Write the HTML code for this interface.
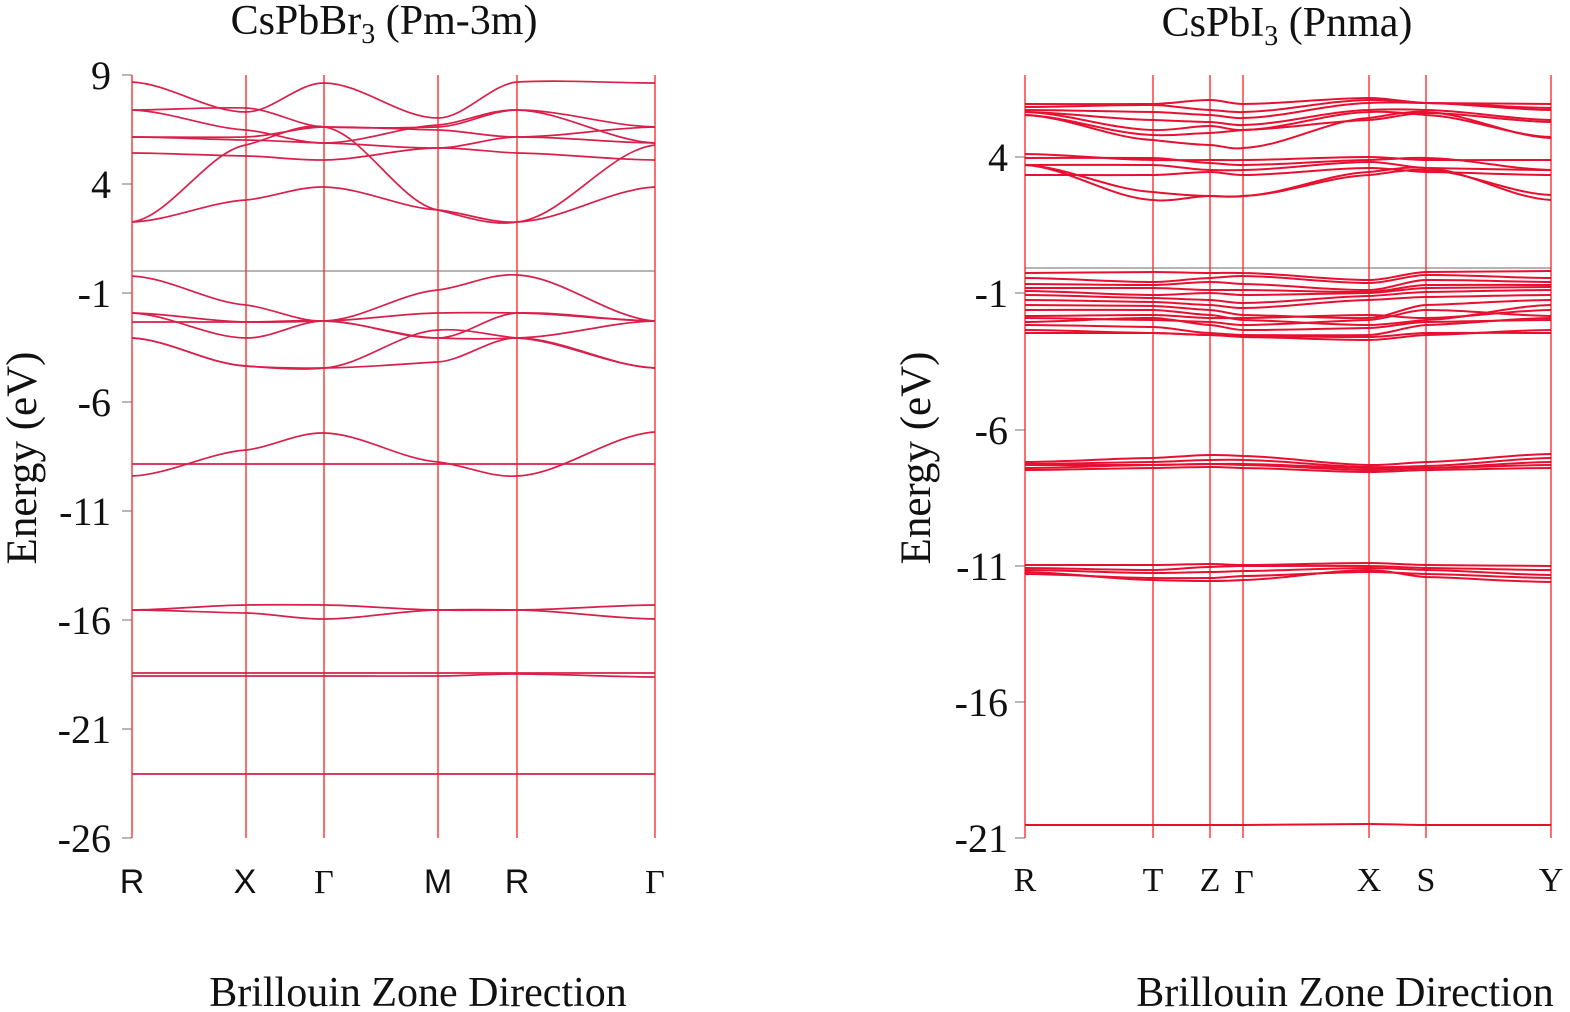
<!DOCTYPE html>
<html><head><meta charset="utf-8"><style>
html,body{margin:0;padding:0;background:#fff;}
svg{display:block;}
text{font-family:"Liberation Serif",serif;fill:#111;}
.s{font-family:"Liberation Sans",sans-serif;}
</style></head><body>
<svg id="c" width="1570" height="1012" viewBox="0 0 1570 1012" xmlns="http://www.w3.org/2000/svg">
<text x="384" y="34" font-size="42" text-anchor="middle">CsPbBr<tspan font-size="28" dy="9">3</tspan><tspan dy="-9">  (Pm-3m)</tspan></text>
<text x="1287" y="36" font-size="42" text-anchor="middle">CsPbI<tspan font-size="28" dy="9">3</tspan><tspan dy="-9"> (Pnma)</tspan></text>
<text transform="translate(36,458) rotate(-90)" font-size="43" text-anchor="middle">Energy (eV)</text>
<text transform="translate(930,458) rotate(-90)" font-size="43" text-anchor="middle">Energy (eV)</text>
<text x="418" y="1006" font-size="42" text-anchor="middle">Brillouin Zone Direction</text>
<text x="1345" y="1006" font-size="42" text-anchor="middle">Brillouin Zone Direction</text>
<g stroke="#888" stroke-width="1.2">
<line x1="122" y1="75" x2="132" y2="75"/><line x1="122" y1="184" x2="132" y2="184"/><line x1="122" y1="293" x2="132" y2="293"/><line x1="122" y1="402" x2="132" y2="402"/><line x1="122" y1="511" x2="132" y2="511"/><line x1="122" y1="620" x2="132" y2="620"/><line x1="122" y1="729" x2="132" y2="729"/><line x1="122" y1="838" x2="132" y2="838"/>
<line x1="1015" y1="157" x2="1025" y2="157"/><line x1="1015" y1="293" x2="1025" y2="293"/><line x1="1015" y1="430" x2="1025" y2="430"/><line x1="1015" y1="566" x2="1025" y2="566"/><line x1="1015" y1="702" x2="1025" y2="702"/><line x1="1015" y1="838" x2="1025" y2="838"/>
<line x1="132" y1="271" x2="655" y2="271"/><line x1="1025" y1="268" x2="1551" y2="268"/>
</g>
<g font-size="40" text-anchor="end">
<text x="111" y="89">9</text><text x="111" y="198">4</text><text x="111" y="307">-1</text><text x="111" y="416">-6</text><text x="111" y="525">-11</text><text x="111" y="634">-16</text><text x="111" y="743">-21</text><text x="111" y="852">-26</text>
<text x="1008" y="171">4</text><text x="1008" y="307">-1</text><text x="1008" y="444">-6</text><text x="1008" y="580">-11</text><text x="1008" y="716">-16</text><text x="1008" y="852">-21</text>
</g>
<g font-size="34" text-anchor="middle">
<text class="s" x="132" y="893">R</text><text class="s" x="245" y="893">X</text><text x="324" y="893">Γ</text><text class="s" x="438" y="893">M</text><text class="s" x="517" y="893">R</text><text x="655" y="893">Γ</text>
<text x="1025" y="891">R</text><text x="1153" y="891">T</text><text x="1210" y="891">Z</text><text x="1244" y="893">Γ</text><text x="1369" y="891">X</text><text x="1426" y="891">S</text><text x="1551" y="891">Y</text>
</g>
<g stroke="#ff2020" stroke-width="1.3">
<line x1="132" y1="75" x2="132" y2="838"/><line x1="246" y1="75" x2="246" y2="838"/><line x1="324" y1="75" x2="324" y2="838"/><line x1="438" y1="75" x2="438" y2="838"/><line x1="517" y1="75" x2="517" y2="838"/><line x1="655" y1="75" x2="655" y2="838"/>
<line x1="1025" y1="75" x2="1025" y2="838"/><line x1="1153" y1="75" x2="1153" y2="838"/><line x1="1210" y1="75" x2="1210" y2="838"/><line x1="1243" y1="75" x2="1243" y2="838"/><line x1="1369" y1="75" x2="1369" y2="838"/><line x1="1426" y1="75" x2="1426" y2="838"/><line x1="1551" y1="75" x2="1551" y2="838"/>
</g>
<g id="L" fill="none" stroke="#d8204a" stroke-width="1.7"></g>
<g id="R" fill="none" stroke="#e81030" stroke-width="2"></g>
</svg>
<script>
function path(xs,ys){
  var pts=xs.map(function(x,i){return [x,ys[i]];});
  var d="M"+pts[0][0]+","+pts[0][1];
  for(var i=0;i<pts.length-1;i++){
    var p0=pts[Math.max(i-1,0)],p1=pts[i],p2=pts[i+1],p3=pts[Math.min(i+2,pts.length-1)];
    var c1x=p1[0]+(p2[0]-p1[0])/3,c2x=p2[0]-(p2[0]-p1[0])/3;
    var c1y=p1[1]+(p2[1]-p0[1])/6*0.4, c2y=p2[1]-(p3[1]-p1[1])/6*0.4;
    d+=" C"+c1x+","+c1y+" "+c2x+","+c2y+" "+p2[0]+","+p2[1];
  }
  return d;
}
function draw(id,xs,bands){
  var g=document.getElementById(id),h="";
  bands.forEach(function(b){h+='<path d="'+path(xs,b)+'"/>';});
  g.innerHTML=h;
}
var LX=[132,246,324,438,517,655];
draw("L",LX,[
[82,112,83,118,82,83],[110,108,127,127,110,127],[110,130,143,125,110,143],[137,140,143,148,137,143],
[137,137,127,130,137,127],[153,156,160,148,153,160],[222,145,127,210,222,145],[222,200,187,210,222,187],
[276,305,321,290,275,321],[313,322,321,313,313,321],[313,338,321,338,313,321],[322,322,321,338,338,321],
[338,366,368,362,338,368],[338,366,368,330,338,368],[464,464,464,464,464,464],[476,450,433,462,476,432],
[610,605,605,610,610,605],[610,613,619,610,610,619],[673,673,673,673,673,673],[676,676,676,676,674,677],
[774,774,774,774,774,774]
]);
var RX=[1025,1153,1210,1243,1369,1426,1551];
draw("R",RX,[
[104,104,100,104,98,103,104],[107,105,110,112,100,103,110],[110,112,115,118,103,103,108],
[112,120,122,125,110,110,120],[115,135,133,130,120,113,122],[115,140,145,148,118,112,138],
[112,130,126,130,112,115,137],
[154,160,160,160,157,160,160],[158,158,163,165,160,158,170],[165,165,170,170,162,168,170],
[175,175,172,175,168,172,175],[165,192,196,196,175,170,195],[165,200,196,196,172,168,200],
[273,272,273,273,280,272,271],[278,282,278,276,283,275,278],[284,285,282,284,290,280,282],
[288,288,290,290,292,285,285],[291,295,293,295,293,288,287],[295,298,300,303,296,292,290],
[300,302,305,308,300,297,295],[305,306,310,315,318,305,300],[310,310,315,320,325,320,305],
[316,315,318,318,315,318,310],[318,320,322,325,320,310,316],[322,318,325,330,328,322,320],
[325,327,333,335,335,325,318],[330,333,335,337,340,335,330],[333,333,335,336,337,333,333],
[462,458,455,456,465,462,454],[464,462,460,460,467,466,458],[465,465,464,465,470,468,462],
[468,465,464,464,468,468,465],[470,468,467,468,472,470,468],
[565,565,564,565,563,565,566],[568,570,567,566,566,568,570],[570,573,572,571,568,570,575],
[574,578,578,576,572,574,578],[572,580,581,580,570,577,582],
[825,825,825,825,824,825,825]
]);
</script>
</body></html>
